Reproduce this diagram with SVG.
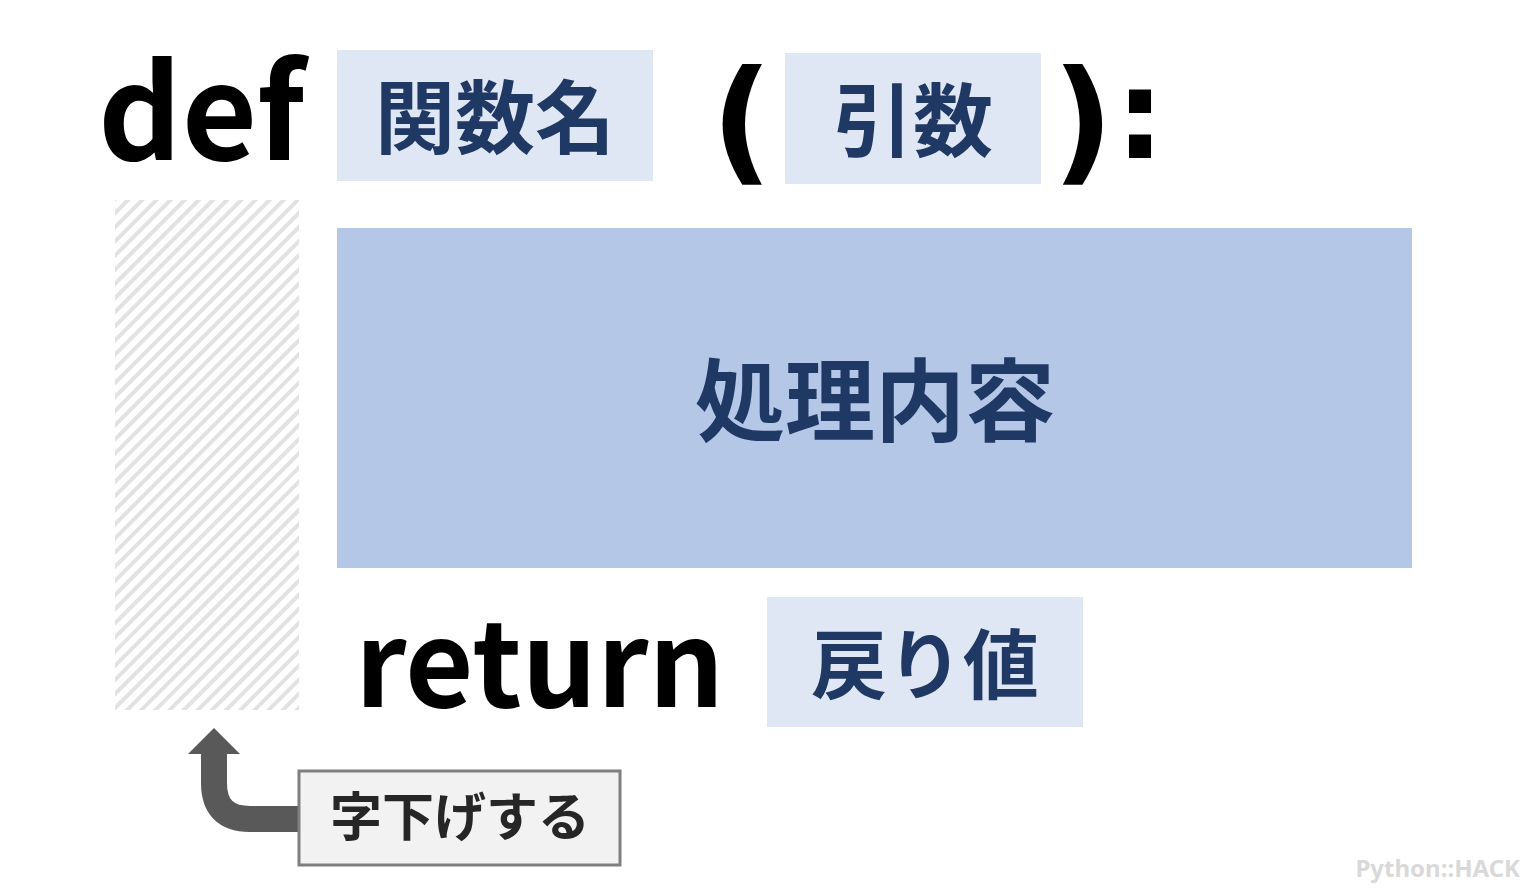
<svg xmlns="http://www.w3.org/2000/svg" width="1536" height="895" viewBox="0 0 1536 895">
<style>
.code{font-family:"Noto Sans CJK JP","Noto Sans",sans-serif;font-weight:700;fill:#000}
.punc{font-family:"DejaVu Sans",sans-serif;font-weight:700;fill:#000}
.jp{font-family:"Noto Sans CJK JP",sans-serif;font-weight:700;fill:#203864;text-anchor:middle}
.light{fill:#dfe7f4}
</style>
<defs>
<pattern id="hatch" width="10" height="10" patternUnits="userSpaceOnUse" patternTransform="rotate(45)">
<rect width="10" height="10" fill="#fff"/>
<rect x="0" y="0" width="4" height="10" fill="#e2e2e2"/>
</pattern>
</defs>
<rect width="1536" height="895" fill="#fff"/>
<g id="indent-area"><rect x="115" y="200" width="184" height="510" fill="url(#hatch)"/></g>
<g id="def"><text class="code" x="98" y="160" font-size="130">def</text></g>
<g id="funcname"><rect class="light" x="337" y="50" width="316" height="131"/><text class="jp" x="495" y="147" font-size="80">関数名</text></g>
<g id="paren-open"><text class="punc" x="711" y="167" font-size="135">(</text></g>
<g id="args"><rect class="light" x="785" y="53" width="256" height="131"/><text class="jp" x="913" y="150" font-size="80">引数</text></g>
<g id="paren-close"><text class="punc" x="1052" y="167" font-size="135">)</text><text class="punc" x="1115" y="158" font-size="125">:</text></g>
<g id="body"><rect x="337" y="228" width="1075" height="340" fill="#b4c7e7"/><text class="jp" x="875" y="434" font-size="90">処理内容</text></g>
<g id="return"><text class="code" x="355" y="707" font-size="118">return</text></g>
<g id="retval"><rect class="light" x="767" y="597" width="316" height="130"/><text class="jp" x="925" y="693" font-size="76">戻り値</text></g>
<g id="connectors">
<path d="M300,819 H250 Q214,819 214,783 V750" fill="none" stroke="#595959" stroke-width="26"/>
<polygon points="214,728 240,754 188,754" fill="#595959"/>
</g>
<g id="indent-label"><rect x="299" y="771" width="321" height="94" fill="#f2f2f2" stroke="#7f7f7f" stroke-width="3"/><text x="460" y="836" font-size="52" text-anchor="middle" style="font-family:'Noto Sans CJK JP',sans-serif;font-weight:700;fill:#262626">字下げする</text></g>
<g id="watermark"><text x="1520" y="877" font-size="24" text-anchor="end" style="font-family:'Noto Sans','Liberation Sans',sans-serif;font-weight:700;fill:#d9d9d9">Python::HACK</text></g>
</svg>
